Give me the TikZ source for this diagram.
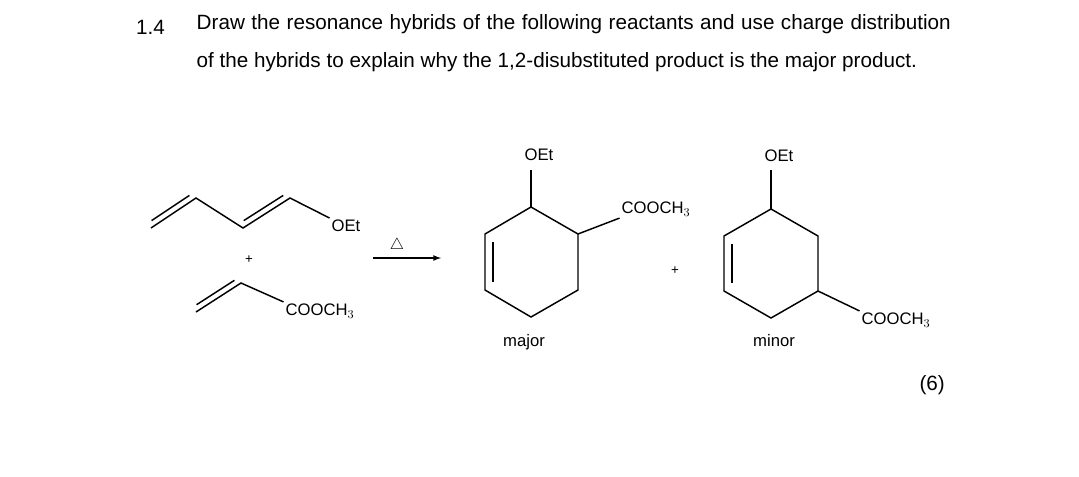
\documentclass[tikz,border=0pt]{standalone}
\usepackage{fontspec}
\setmainfont{Liberation Sans}
\usetikzlibrary{calc}
\begin{document}
\begin{tikzpicture}[x=0.75pt,y=-0.75pt,line width=1.1pt,
  lab/.style={inner sep=1pt,font=\fontsize{12.5}{14}\selectfont},
  big/.style={font=\fontsize{15.5}{28}\selectfont}]
\useasboundingbox (0,0) rectangle (1079,476);
\node[big,anchor=base west] (num) at (131,34) {1.4};
\node[big,anchor=north west,text width=754*0.75pt,align=justify,inner sep=0pt] (q) at (196,14)
 {Draw the resonance hybrids of the following reactants and use charge distribution of the hybrids to explain why the 1,2-disubstituted product is the major product.};
% diene
\coordinate (d1) at (151,228); \coordinate (d2) at (196,198); \coordinate (d3) at (243,228); \coordinate (d4) at (290,198);
\node[lab] (oet1) at (346,226) {OEt};
\draw (d1)--(d2)--(d3)--(d4)--(oet1.north west);
\draw ($(d1)!0.08!(d2)+(-3,-5)$) -- ($(d1)!0.92!(d2)+(-3,-5)$);
\draw ($(d3)!0.08!(d4)+(-3,-5)$) -- ($(d3)!0.92!(d4)+(-3,-5)$);
\node[lab,font=\fontsize{10}{12}\selectfont] (p1) at (249,260) {+};
% dienophile
\coordinate (e1) at (196,312); \coordinate (e2) at (241,283);
\node[lab] (co1) at (320,311) {COOCH$_3$};
\draw (e1)--(e2)--(co1.north west);
\draw ($(e1)!0.08!(e2)+(-3,-5)$) -- ($(e1)!0.92!(e2)+(-3,-5)$);
% arrow
\node[lab] (delta) at (397,245) {$\triangle$};
\coordinate (a1) at (373,258); \coordinate (a2) at (441,258);
\draw[-latex,line width=1pt] (a1)--(a2);
% major
\coordinate (m1) at (531,207); \coordinate (m2) at (578,234); \coordinate (m3) at (578,290);
\coordinate (m4) at (531,317); \coordinate (m5) at (485,290); \coordinate (m6) at (485,234);
\draw (m1)--(m2)--(m3)--(m4)--(m5)--(m6)--cycle;
\draw (493,242)--(493,282);
\node[lab] (oet2) at (539,155) {OEt};
\draw (m1)--(531,170);
\node[lab] (co2) at (656,209) {COOCH$_3$};
\draw (m2)--(co2.south west);
\node[lab] (maj) at (524,342) {major};
\node[lab,font=\fontsize{10}{12}\selectfont] (p2) at (675,271) {+};
% minor
\coordinate (n1) at (771,209); \coordinate (n2) at (818,236); \coordinate (n3) at (818,291);
\coordinate (n4) at (771,318); \coordinate (n5) at (724,291); \coordinate (n6) at (724,236);
\draw (n1)--(n2)--(n3)--(n4)--(n5)--(n6)--cycle;
\draw (732,244)--(732,283);
\node[lab] (oet3) at (779,156) {OEt};
\draw (n1)--(771,170);
\node[lab] (co3) at (896,320) {COOCH$_3$};
\draw (n3)--(co3.north west);
\node[lab] (mnr) at (774,341) {minor};
\node[big,anchor=base east] (six) at (950,390) {(6)};
\end{tikzpicture}
\end{document}
